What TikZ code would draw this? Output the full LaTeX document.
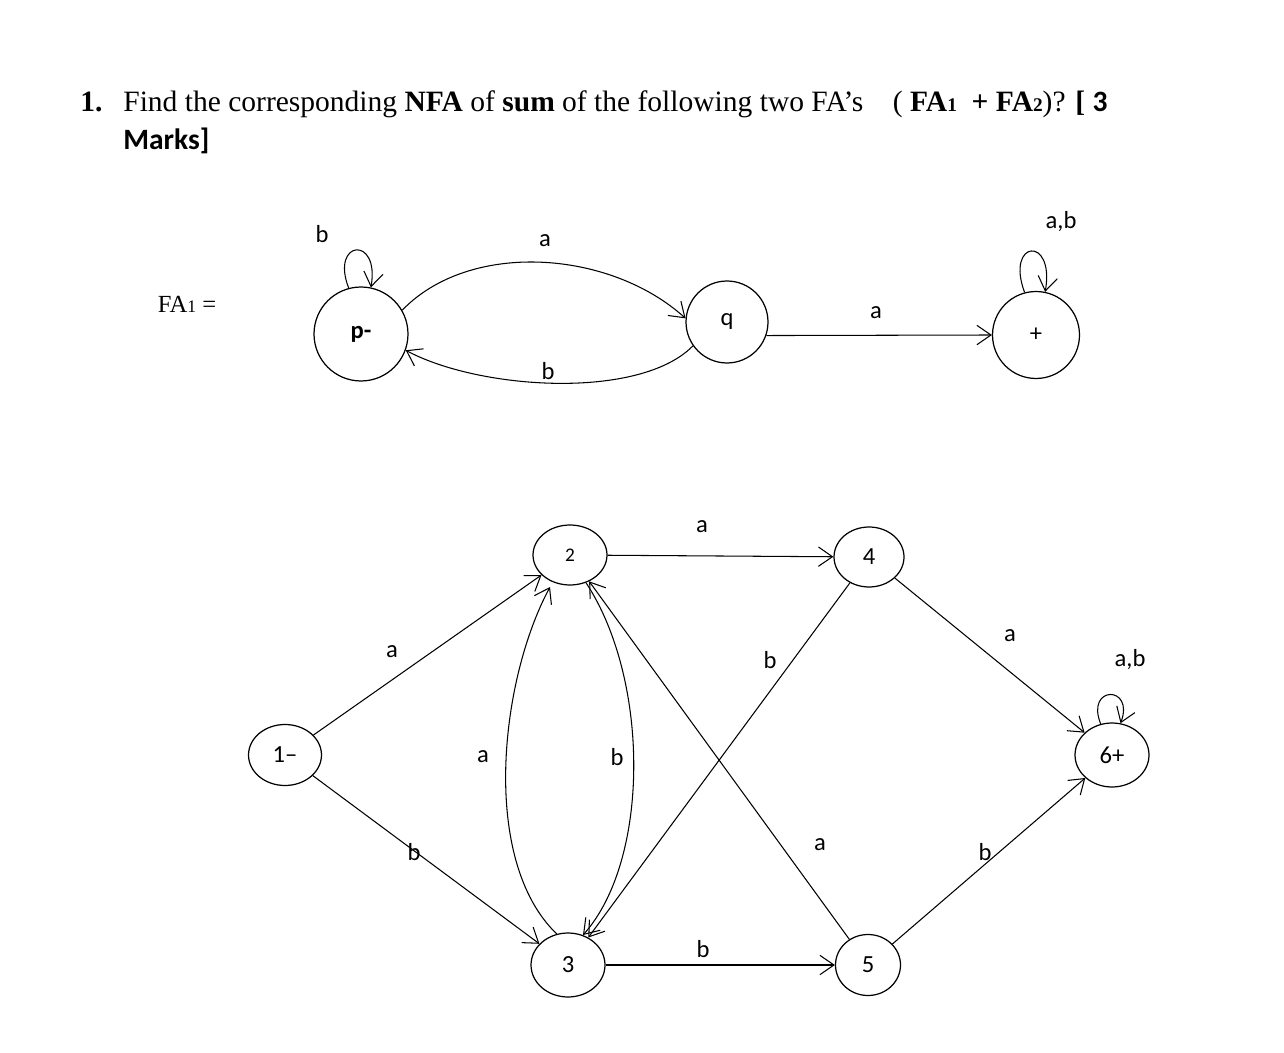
\documentclass[tikz,border=0pt]{standalone}
\usepackage{fontspec}
\setmainfont{Liberation Serif}
\newfontfamily\calfont{Carlito}
\usetikzlibrary{arrows.meta,shapes.geometric}
\begin{document}
\begin{tikzpicture}[x=0.02cm,y=-0.02cm,
  st/.style={draw,line width=0.7pt,ellipse,inner sep=0pt,font=\calfont\fontsize{14pt}{16pt}\selectfont},
  lb/.style={font=\calfont\fontsize{14pt}{16pt}\selectfont},
  ar/.style={line width=0.6pt,-{Straight Barb[length=8pt,width=11pt,line width=0.6pt]}}]
\useasboundingbox (0,0) rectangle (1284,1053);
\node[anchor=base west,font=\bfseries\fontsize{16.8pt}{19pt}\selectfont,inner sep=0pt] (num) at (80,112) {1.};
\node[anchor=base west,font=\fontsize{16.8pt}{19pt}\selectfont,inner sep=0pt] (t1) at (123,112) {Find the corresponding \textbf{NFA} of \textbf{sum} of the following two FA’s\quad( \textbf{FA{\fontsize{11pt}{12pt}\selectfont 1}\enspace+ FA{\fontsize{11pt}{12pt}\selectfont 2}})? \textbf{[ {\calfont 3}}};
\node[anchor=base west,font=\calfont\bfseries\fontsize{16.8pt}{19pt}\selectfont,inner sep=0pt] (t2) at (123,150) {Marks]};
\node[font=\fontsize{14pt}{16pt}\selectfont] (fa) at (187,304) {FA{\fontsize{10pt}{12pt}\selectfont 1} =};
% FA1
\node[st,circle,minimum size=1.88cm] (p) at (361,334) {\textbf{p-}};
\node[st,circle,minimum size=1.64cm] (q) at (727,322) {q};
\node[st,circle,minimum size=1.74cm] (f) at (1036,335) {+};
\draw[ar] (p.30) .. controls (470,240) and (610,250) .. (q.175);
\node[lb] (la1) at (545,241) {a};
\draw[ar] (q.215) .. controls (640,400) and (480,390) .. (p.-20);
\node[lb] (lb1) at (548,371) {b};
\draw[ar] (q.-19) -- (f.west);
\node[lb] (la2) at (876,313) {a};
\draw[ar] (p.105) .. controls (330,240) and (380,235) .. (p.78);
\node[lb] (lb2) at (322,234) {b};
\draw[ar] (f.105) .. controls (1005,240) and (1055,235) .. (f.78);
\node[lb] (lab1) at (1061,222) {a,b};
% FA2
\node[st,minimum width=1.48cm,minimum height=1.2cm,font=\calfont\fontsize{11pt}{13pt}\selectfont] (n2) at (570,555) {2};
\node[st,minimum width=1.46cm,minimum height=1.22cm] (n1) at (285,755) {1\textendash};
\node[st,minimum width=1.4cm,minimum height=1.2cm] (n4) at (869,557) {4};
\node[st,minimum width=1.48cm,minimum height=1.28cm] (n6) at (1112,755) {6+};
\node[st,minimum width=1.48cm,minimum height=1.28cm] (n3) at (568,965) {3};
\node[st,minimum width=1.3cm,minimum height=1.22cm] (n5) at (868,965) {5};
\draw[ar] (n1) -- (n2); \node[lb] (e1) at (392,652) {a};
\draw[ar] (n1) -- (n3); \node[lb] (e2) at (414,852) {b};
\draw[ar] (n2) -- (n4); \node[lb] (e3) at (702,527) {a};
\draw[ar] (n3) -- (n5); \node[lb] (e4) at (703,949) {b};
\draw[ar] (n3.110) .. controls (480,860) and (500,680) .. (550,587);
\node[lb] (e5) at (483,757) {a};
\draw[ar] (n2.-60) .. controls (650,680) and (650,860) .. (583,935);
\node[lb] (e6) at (617,757) {b};
\draw[ar] (n4) -- (n3); \node[lb] (e7) at (770,660) {b};
\draw[ar] (n5) -- (n2); \node[lb] (e8) at (820,845) {a};
\draw[ar] (n4) -- (n6); \node[lb] (e9) at (1010,636) {a};
\draw[ar] (n5) -- (n6); \node[lb] (e10) at (985,852) {b};
\draw[ar] (n6.110) .. controls (1085,685) and (1135,685) .. (n6.75);
\node[lb] (e11) at (1130,660) {a,b};
\end{tikzpicture}
\end{document}
